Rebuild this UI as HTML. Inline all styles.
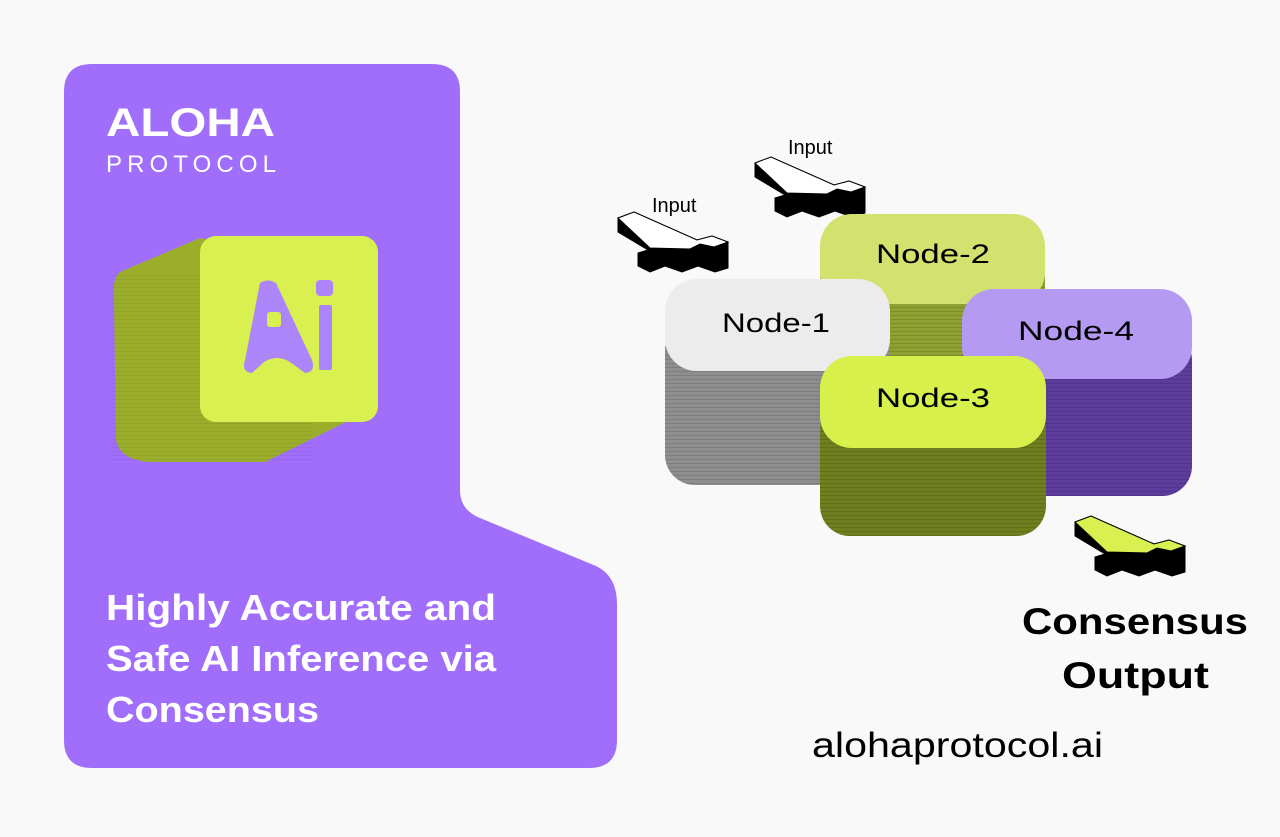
<!DOCTYPE html>
<html><head><meta charset="utf-8"><style>
body{margin:0;width:1280px;height:832px;background:#faf9fa;overflow:hidden;font-family:"Liberation Sans",sans-serif}
</style></head><body>
<svg width="1280" height="832" viewBox="0 0 1280 832" xmlns="http://www.w3.org/2000/svg">
<defs>
<pattern id="lines" width="6" height="4" patternUnits="userSpaceOnUse"><rect width="6" height="4" fill="none"/><line x1="0" y1="3.5" x2="6" y2="3.5" stroke="#000" stroke-opacity="0.12" stroke-width="1"/></pattern>
</defs>
<path d="M92,64 H432 Q460,64 460,92 V490 Q460,510 480,518 L596,566 Q617,576 617,604 V740 Q617,768 589,768 H92 Q64,768 64,740 V92 Q64,64 92,64 Z" fill="#a06efb"/>
<text x="106" y="136" font-size="40" font-weight="bold" fill="#fff" textLength="169" lengthAdjust="spacingAndGlyphs">ALOHA</text>
<text x="106" y="172" font-size="24" fill="#fff" textLength="170" lengthAdjust="spacing">PROTOCOL</text>
<!-- cube -->
<path d="M200,238 L120,272 Q112,278 114,300 L116,440 Q120,460 150,462 L265,462 L350,420 L372,400 L210,240 Z" fill="#9aae2c"/>
<rect x="112" y="272" width="200" height="190" fill="url(#lines)" opacity="0.5"/>
<rect x="200" y="236" width="178" height="186" rx="16" fill="#d8f050"/>
<path d="M260,283 Q268,278 276,283 L312,360 Q316,372 305,373 L290,362 Q277,354 264,362 L252,373 Q241,372 245,360 Z" fill="#ad85fa"/>
<rect x="267" y="312" width="14" height="15" rx="3" fill="#d8f050"/>
<rect x="316" y="280" width="17" height="16" rx="4" fill="#ad85fa"/>
<rect x="319" y="305" width="13" height="65" rx="2" fill="#ad85fa"/>
<text x="106" y="620" font-size="36" font-weight="bold" fill="#fff" textLength="390" lengthAdjust="spacingAndGlyphs">Highly Accurate and</text>
<text x="106" y="671" font-size="36" font-weight="bold" fill="#fff" textLength="390" lengthAdjust="spacingAndGlyphs">Safe AI Inference via</text>
<text x="106" y="722" font-size="36" font-weight="bold" fill="#fff" textLength="213" lengthAdjust="spacingAndGlyphs">Consensus</text>
<!-- inputs -->
<g stroke="#000" stroke-width="1">
<path d="M618,218 L634,212 L697,240 L712,236 L728,242 L728,268 L715,272 L698,266 L682,272 L665,266 L650,272 L638,266 L638,253 L648,250 L618,232 Z" fill="#000"/>
<path d="M618,218 L634,212 L697,240 L712,236 L728,242 L714,247 L700,244 L690,249 L650,248 Z" fill="#fff"/>
<path d="M755,163 L771,157 L834,185 L849,181 L865,187 L865,213 L852,217 L835,211 L819,217 L802,211 L787,217 L775,211 L775,198 L785,195 L755,177 Z" fill="#000"/>
<path d="M755,163 L771,157 L834,185 L849,181 L865,187 L851,192 L837,189 L827,194 L787,193 Z" fill="#fff"/>
<path d="M1075,522 L1091,516 L1154,544 L1169,540 L1185,546 L1185,572 L1172,576 L1155,570 L1139,576 L1122,570 L1107,576 L1095,570 L1095,557 L1105,554 L1075,536 Z" fill="#000"/>
<path d="M1075,522 L1091,516 L1154,544 L1169,540 L1185,546 L1171,551 L1157,548 L1147,553 L1107,552 Z" fill="#d8f050"/>
</g>
<text x="652" y="212" font-size="20" fill="#000">Input</text>
<text x="788" y="154" font-size="20" fill="#000">Input</text>
<!-- Node-2 -->
<rect x="820" y="250" width="225" height="130" rx="30" fill="#8fa032"/>
<rect x="820" y="250" width="225" height="130" rx="30" fill="url(#lines)"/>
<rect x="820" y="214" width="225" height="90" rx="32" fill="#d3e26e"/>
<!-- Node-1 -->
<rect x="665" y="320" width="225" height="165" rx="30" fill="#8e8e8e"/>
<rect x="665" y="320" width="225" height="165" rx="30" fill="url(#lines)"/>
<rect x="665" y="279" width="225" height="92" rx="32" fill="#ececec"/>
<!-- Node-4 -->
<rect x="962" y="330" width="230" height="166" rx="30" fill="#5c3c9c"/>
<rect x="962" y="330" width="230" height="166" rx="30" fill="url(#lines)"/>
<rect x="962" y="289" width="230" height="90" rx="32" fill="#b59af4"/>
<!-- Node-3 -->
<rect x="820" y="400" width="226" height="136" rx="30" fill="#6f7e1e"/>
<rect x="820" y="400" width="226" height="136" rx="30" fill="url(#lines)"/>
<rect x="820" y="356" width="226" height="92" rx="32" fill="#d8f04c"/>
<g font-size="27" fill="#000">
<text x="876" y="263" textLength="114" lengthAdjust="spacingAndGlyphs">Node-2</text>
<text x="722" y="332" textLength="108" lengthAdjust="spacingAndGlyphs">Node-1</text>
<text x="1018" y="340" textLength="116" lengthAdjust="spacingAndGlyphs">Node-4</text>
<text x="876" y="407" textLength="114" lengthAdjust="spacingAndGlyphs">Node-3</text>
</g>
<text x="1022" y="634" font-size="37" font-weight="bold" fill="#000" textLength="226" lengthAdjust="spacingAndGlyphs">Consensus</text>
<text x="1062" y="688" font-size="37" font-weight="bold" fill="#000" textLength="147" lengthAdjust="spacingAndGlyphs">Output</text>
<text x="812" y="757" font-size="35" fill="#000" textLength="291" lengthAdjust="spacingAndGlyphs">alohaprotocol.ai</text>
</svg>
</body></html>
